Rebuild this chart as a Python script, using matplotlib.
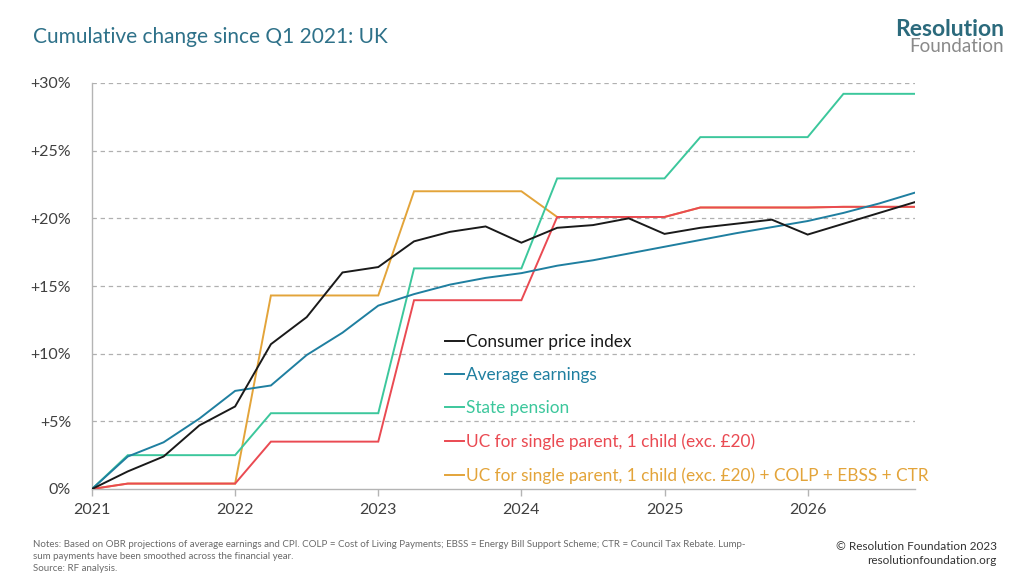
import matplotlib
matplotlib.use("Agg")
import matplotlib.pyplot as plt
import numpy as np

plt.rcParams['font.family'] = ['Lato', 'DejaVu Sans']

# Quarterly data, Q1 2021 .. Q4 2026
years = [2021 + 0.25 * i for i in range(24)]

cpi = [0.0, 1.3, 2.4, 4.7, 6.1, 10.7, 12.7, 16.0, 16.4, 18.3, 19.0, 19.4,
       18.2, 19.3, 19.5, 20.0, 18.85, 19.3, 19.6, 19.9, 18.8, 19.6, 20.4, 21.2]
earnings = [0.0, 2.4, 3.45, 5.2, 7.25, 7.65, 9.9, 11.55, 13.55, 14.4, 15.1, 15.6,
            15.95, 16.5, 16.9, 17.4, 17.9, 18.4, 18.9, 19.35, 19.8, 20.4, 21.1, 21.9]
pension = [0.0, 2.5, 2.5, 2.5, 2.5, 5.6, 5.6, 5.6, 5.6, 16.3, 16.3, 16.3,
           16.3, 22.95, 22.95, 22.95, 22.95, 26.0, 26.0, 26.0, 26.0, 29.2, 29.2, 29.2]
uc = [0.0, 0.4, 0.4, 0.4, 0.4, 3.5, 3.5, 3.5, 3.5, 13.95, 13.95, 13.95,
      13.95, 20.1, 20.1, 20.1, 20.1, 20.8, 20.8, 20.8, 20.8, 20.85, 20.85, 20.85]
uc_plus = [0.0, 0.4, 0.4, 0.4, 0.4, 14.3, 14.3, 14.3, 14.3, 22.0, 22.0, 22.0,
           22.0, 20.1, 20.1, 20.1, 20.1, 20.8, 20.8, 20.8, 20.8, 20.85, 20.85, 20.85]

labels = ["Consumer price index", "Average earnings", "State pension",
          "UC for single parent, 1 child (exc. £20)",
          "UC for single parent, 1 child (exc. £20) + COLP + EBSS + CTR"]
colors = ["#1a1a1a", "#1f7fa0", "#3cc79c", "#ea4a52", "#e3a43a"]

ytick_vals = [0, 5, 10, 15, 20, 25, 30]
ytick_labels = ["0%", "+5%", "+10%", "+15%", "+20%", "+25%", "+30%"]
xtick_vals = [2021, 2022, 2023, 2024, 2025, 2026]

fig = plt.figure(figsize=(10.24, 5.76), dpi=100)
ax = fig.add_axes([92/1024, 1 - 489/576, (915 - 92)/1024, (489 - 83)/576])

series = [cpi, earnings, pension, uc, uc_plus]
zorders = [6, 5, 4, 3, 2]
handles = []
for s, c, l, z in zip(series, colors, labels, zorders):
    h, = ax.plot(years, s, color=c, lw=1.4, label=l, zorder=z, solid_joinstyle='miter')
    handles.append(h)

ax.set_xlim(2021, 2026.75)
ax.set_ylim(0, 30)
ax.set_yticks(ytick_vals)
ax.set_yticklabels(ytick_labels)
ax.set_xticks(xtick_vals)
ax.set_xticklabels([str(v) for v in xtick_vals])

for v in ytick_vals[1:]:
    ax.axhline(v, color="#b0b0b0", lw=0.9, ls=(0, (3.5, 3)), zorder=1)

for sp in ["top", "right"]:
    ax.spines[sp].set_visible(False)
for sp in ["left", "bottom"]:
    ax.spines[sp].set_color("#b4b4b4")
    ax.spines[sp].set_linewidth(1.0)

ax.tick_params(axis='y', length=0, pad=15, labelsize=11.5, labelcolor="#404040")
ax.tick_params(axis='x', length=5, width=1.0, color="#b4b4b4", pad=5,
               labelsize=11.5, labelcolor="#404040", direction='out')

leg = ax.legend(handles=handles, loc='upper left', bbox_to_anchor=(438/1024, 1 - 327/576),
                bbox_transform=fig.transFigure, frameon=False, fontsize=12.4,
                handlelength=1.1, handletextpad=0.15, labelspacing=1.0,
                labelcolor='linecolor', borderaxespad=0)

fig.text(33/1024, 1 - 37/576, "Cumulative change since Q1 2021: UK", fontsize=15,
         color="#2e7189", va='center', ha='left')

fig.text(1004/1024, 1 - 29/576, "Resolution", fontsize=16.5, fontweight='bold',
         color="#2b6a7c", ha='right', va='center')
fig.text(1004/1024, 1 - 46/576, "Foundation", fontsize=13.5, color="#8a8a8a",
         ha='right', va='center')

notes = ("Notes: Based on OBR projections of average earnings and CPI. COLP = Cost of Living Payments; "
         "EBSS = Energy Bill Support Scheme; CTR = Council Tax Rebate. Lump-\n"
         "sum payments have been smoothed across the financial year.\n"
         "Source: RF analysis.")
fig.text(33/1024, 1 - 540/576, notes, fontsize=7.0, color="#6a6a6a", ha='left', va='top',
         linespacing=1.4)
fig.text(997/1024, 1 - 547/576, "© Resolution Foundation 2023", fontsize=8.5,
         color="#333333", ha='right', va='center')
fig.text(997/1024, 1 - 561/576, "resolutionfoundation.org", fontsize=8.5,
         color="#333333", ha='right', va='center')

fig.savefig("out.png", dpi=100)
